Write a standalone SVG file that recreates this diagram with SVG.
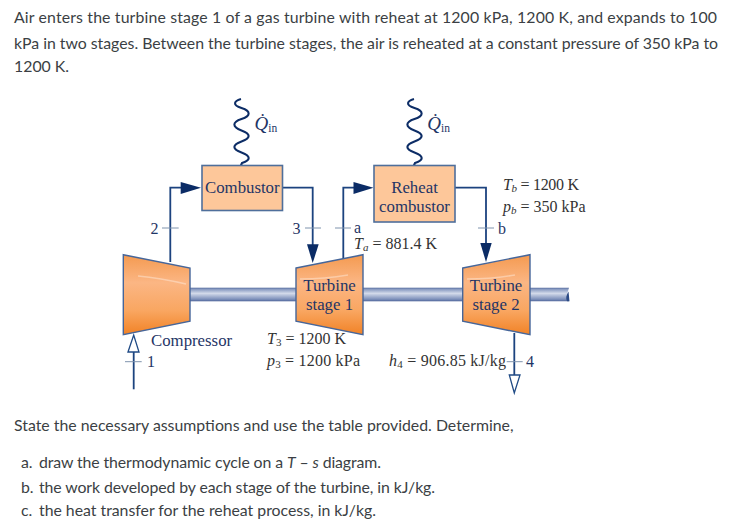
<svg xmlns="http://www.w3.org/2000/svg" width="732" height="531" viewBox="0 0 732 531">
<style>
.p{font-family:Lato,"Open Sans",sans-serif;font-size:15.85px;fill:#3b3f44}
.d{font-family:"Liberation Serif",serif;font-size:16.8px;fill:#1f3566}
.n{font-size:16px}
.q{font-size:19px;font-style:italic}
.s{font-size:11.5px}
.m{font-family:"Liberation Serif",serif;font-size:16px;fill:#333}
.u{font-size:11px}
.i{font-style:italic}
.box{fill:#fdc79a;stroke:#4f6f9b;stroke-width:1.6}
.mach{fill:url(#orange);stroke:#46669a;stroke-width:1.4}
.line{fill:none;stroke:#1c437f;stroke-width:1.8}
.tick{fill:none;stroke:#7f93ad;stroke-width:1}
.wave{fill:none;stroke:#0d2d66;stroke-width:2.1}
.head{fill:#0b2c66}
.open{fill:#fff;stroke:#1f4a85;stroke-width:1.3}
.shine{fill:none;stroke:#fff;stroke-opacity:.35;stroke-width:1.5}
</style>
<defs>
<linearGradient id="orange" x1="0" y1="0" x2="0" y2="1">
<stop offset="0" stop-color="#f49a50"/><stop offset=".35" stop-color="#fbb684"/><stop offset=".7" stop-color="#f9a661"/><stop offset="1" stop-color="#f18226"/>
</linearGradient>
<linearGradient id="shaft" x1="0" y1="0" x2="0" y2="1">
<stop offset="0" stop-color="#566c9f"/><stop offset=".12" stop-color="#8a9cc2"/><stop offset=".42" stop-color="#d3daea"/><stop offset=".85" stop-color="#7d90ba"/><stop offset="1" stop-color="#4f659a"/>
</linearGradient>
</defs>
<g id="problem-text">
<text class="p" x="14" y="23" textLength="703">Air enters the turbine stage 1 of a gas turbine with reheat at 1200 kPa, 1200 K, and expands to 100</text>
<text class="p" x="14" y="49" textLength="704">kPa in two stages. Between the turbine stages, the air is reheated at a constant pressure of 350 kPa to</text>
<text class="p" x="14" y="72">1200 K.</text>
<text class="p" x="14" y="431">State the necessary assumptions and use the table provided. Determine,</text>
<text class="p" x="21" y="468">a.</text><text class="p" x="39" y="468" textLength="342">draw the thermodynamic cycle on a <tspan font-style="italic">T</tspan> – <tspan font-style="italic">s</tspan> diagram.</text>
<text class="p" x="21" y="493">b.</text><text class="p" x="39" y="493" textLength="396">the work developed by each stage of the turbine, in kJ/kg.</text>
<text class="p" x="21" y="516">c.</text><text class="p" x="39" y="516" textLength="337">the heat transfer for the reheat process, in kJ/kg.</text>
</g>
<g id="connectors">
<rect x="190" y="287.700" width="106" height="13.600" fill="url(#shaft)"/>
<rect x="363" y="287.700" width="100" height="13.600" fill="url(#shaft)"/>
<path d="M530 287.700H569L567 294.500L569 301.300H530Z" fill="url(#shaft)"/>
<path d="M568.500 291.500Q565 297 567 301.300H569.500Q569 296 568.500 291.500Z" fill="#2b4a85"/>
<path class="line" d="M170.300 262V187.700H184"/>
<path class="head" d="M180.700 182L201 187.700L180.700 194Z"/>
<path class="line" d="M283 187.700H312.700V250"/>
<path class="head" d="M307 244.300H318.700L312.700 263Z"/>
<path class="line" d="M343.300 262V187.700H357"/>
<path class="head" d="M353.500 182L373.500 187.700L353.500 194Z"/>
<path class="line" d="M455 187.700H486V250"/>
<path class="head" d="M480.300 243H491.700L486 262Z"/>
<path class="line" d="M133.700 389.300V350"/>
<path class="open" d="M128 352L133.700 335L139 352Z"/>
<path class="line" d="M514.300 333V376"/>
<path class="open" d="M509.300 375H520L514.300 393Z"/>
<path class="tick" d="M162 228H178.700M305 228H321M335 228H351M478 228H494M125 361.700H141.700M506.700 361.700H522.700"/>
<path class="wave" d="M241 99C234 101 232 105 241.500 108C251 111 251 116 241.500 119C232 122 232 127 241.500 130.500C251 134 251 138 241.500 141.500C232 145 232 149 241.500 152.500C251 156 251 160 242 163Q240 166 241 171"/>
<path class="head" d="M235.500 168L247 168L241.300 180Z"/>
<path class="wave" transform="translate(173 0)" d="M241 99C234 101 232 105 241.500 108C251 111 251 116 241.500 119C232 122 232 127 241.500 130.500C251 134 251 138 241.500 141.500C232 145 232 149 241.500 152.500C251 156 251 160 242 163Q240 166 241 171"/>
<path class="head" transform="translate(173 0)" d="M235.500 168L247 168L241.300 180Z"/>
</g>
<g id="compressor">
<path class="mach" d="M123.300 254.700L190 268V321.300L123.300 334.700Z"/>
<path class="shine" d="M138 276Q160 278 186 284"/>
<text class="d" x="151" y="346">Compressor</text>
</g>
<g id="combustor">
<rect class="box" x="202" y="165.500" width="80.500" height="45"/>
<text class="d" x="242.300" y="193" text-anchor="middle">Combustor</text>
</g>
<g id="reheat-combustor">
<rect class="box" x="374" y="165.500" width="81" height="56.500"/>
<text class="d" x="414.500" y="193" text-anchor="middle">Reheat</text>
<text class="d" x="414.500" y="212" text-anchor="middle">combustor</text>
</g>
<g id="turbine-1">
<path class="mach" d="M296 268L363 254.700V334.700L296 321.300Z"/>
<path class="shine" d="M300 279Q325 279 348 275"/>
<text class="d" x="329.500" y="291" text-anchor="middle">Turbine</text>
<text class="d" x="329.500" y="310" text-anchor="middle">stage 1</text>
</g>
<g id="turbine-2">
<path class="mach" d="M462.700 268L530 254.700V334.700L462.700 321.300Z"/>
<path class="shine" d="M467 279Q492 279 515 275"/>
<text class="d" x="496" y="291" text-anchor="middle">Turbine</text>
<text class="d" x="496" y="310" text-anchor="middle">stage 2</text>
</g>
<g id="labels">
<text class="d" x="254.500" y="130"><tspan class="q">Q̇</tspan><tspan class="s" dy="2">in</tspan></text>
<text class="d" x="427.300" y="130"><tspan class="q">Q̇</tspan><tspan class="s" dy="2">in</tspan></text>
<text class="d n" x="150.500" y="234">2</text>
<text class="d n" x="292.500" y="234">3</text>
<text class="d n" x="354" y="232.500">a</text>
<text class="d n" x="498" y="233.500">b</text>
<text class="d n" x="147" y="367">1</text>
<text class="d n" x="526" y="367">4</text>
<text class="m" x="503" y="190" textLength="76"><tspan class="i">T</tspan><tspan class="u i" dy="2">b</tspan><tspan dy="-2"> = 1200 K</tspan></text>
<text class="m" x="503" y="212"><tspan class="i">p</tspan><tspan class="u i" dy="2">b</tspan><tspan dy="-2"> = 350 kPa</tspan></text>
<text class="m" x="354" y="248.500"><tspan class="i">T</tspan><tspan class="u i" dy="2">a</tspan><tspan dy="-2"> = 881.4 K</tspan></text>
<text class="m" x="267" y="344"><tspan class="i">T</tspan><tspan class="u" dy="2">3</tspan><tspan dy="-2"> = 1200 K</tspan></text>
<text class="m" x="267" y="366" textLength="93"><tspan class="i">p</tspan><tspan class="u" dy="2">3</tspan><tspan dy="-2"> = 1200 kPa</tspan></text>
<text class="m" x="389" y="366" textLength="117"><tspan class="i">h</tspan><tspan class="u" dy="2">4</tspan><tspan dy="-2"> = 906.85 kJ/kg</tspan></text>
</g>
</svg>
